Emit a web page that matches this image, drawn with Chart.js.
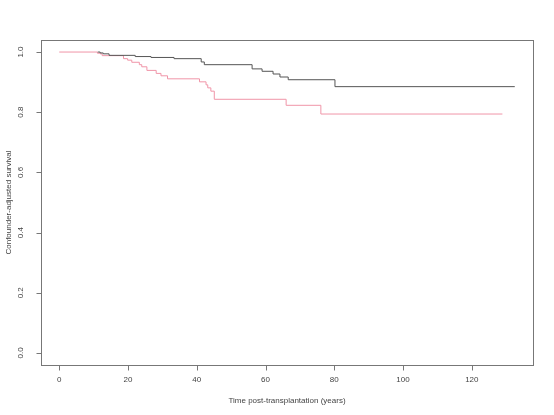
<!DOCTYPE html>
<html>
<head>
<meta charset="utf-8">
<script src="https://cdn.jsdelivr.net/npm/chart.js@4.4.0/dist/chart.umd.min.js"></script>
<style>
  body { margin: 0; background: #fff; }
  canvas { display: block; }
</style>
</head>
<body>
<canvas id="km" width="554" height="415"></canvas>
<script>
// survival curves (time in years, survival)
var blackTimes = [11.2, 11.9, 12.8, 14.5, 22.1, 26.7, 33.4, 41.3, 42.2, 56.1, 59.0, 62.2, 64.2, 66.6, 80.2, 132.5];
var blackSurv  = [1.0, 0.997, 0.994, 0.989, 0.985, 0.982, 0.978, 0.967, 0.958, 0.944, 0.936, 0.927, 0.917, 0.908, 0.885, 0.885];

var redTimes = [0, 11.1, 11.9, 12.5, 18.7, 19.9, 21.1, 23.3, 24.0, 25.5, 28.2, 29.6, 31.5, 40.8, 42.7, 43.2, 44.1, 45.1, 66.0, 76.1, 128.9];
var redSurv  = [1.0, 0.996, 0.994, 0.988, 0.978, 0.973, 0.966, 0.958, 0.951, 0.939, 0.929, 0.921, 0.911, 0.901, 0.891, 0.881, 0.870, 0.843, 0.823, 0.794, 0.794];

var xTicks = [0, 20, 40, 60, 80, 100, 120];
var yTicks = [0.0, 0.2, 0.4, 0.6, 0.8, 1.0];
var xTitle = "Time post-transplantation (years)";
var yTitle = "Confounder-adjusted survival";

function toPoints(xs, ys) {
  var pts = [];
  for (var i = 0; i < xs.length; i++) {
    pts.push({ x: xs[i], y: ys[i] });
  }
  return pts;
}

// R style box, ticks and labels drawn with the chart's own scales
var rAxes = {
  id: "rAxes",
  afterDraw: function(chart) {
    var ctx = chart.ctx;
    var a = chart.chartArea;
    var xs = chart.scales.x;
    var ys = chart.scales.y;
    ctx.save();
    ctx.strokeStyle = "#777";
    ctx.lineWidth = 1;
    ctx.strokeRect(Math.round(a.left) + 0.5, Math.round(a.top) + 0.5,
      Math.round(a.right - a.left), Math.round(a.bottom - a.top));

    ctx.fillStyle = "#444";
    ctx.font = "8px 'Liberation Sans', Arial, sans-serif";
    ctx.textAlign = "center";
    ctx.textBaseline = "middle";

    var yb = Math.round(a.bottom) + 0.5;
    ctx.beginPath();
    ctx.moveTo(xs.getPixelForValue(xTicks[0]), yb);
    ctx.lineTo(xs.getPixelForValue(xTicks[xTicks.length - 1]), yb);
    xTicks.forEach(function(t) {
      var px = Math.round(xs.getPixelForValue(t)) + 0.5;
      ctx.moveTo(px, yb);
      ctx.lineTo(px, yb + 5);
    });
    ctx.stroke();
    xTicks.forEach(function(t) {
      ctx.fillText(String(t), xs.getPixelForValue(t), 380);
    });
    ctx.fillText(xTitle, (a.left + a.right) / 2, 401);

    var xl = Math.round(a.left) + 0.5;
    ctx.beginPath();
    ctx.moveTo(xl, ys.getPixelForValue(yTicks[0]));
    ctx.lineTo(xl, ys.getPixelForValue(yTicks[yTicks.length - 1]));
    yTicks.forEach(function(v) {
      var py = Math.round(ys.getPixelForValue(v)) + 0.5;
      ctx.moveTo(xl, py);
      ctx.lineTo(xl - 5, py);
    });
    ctx.stroke();
    yTicks.forEach(function(v) {
      ctx.save();
      ctx.translate(21, ys.getPixelForValue(v));
      ctx.rotate(-Math.PI / 2);
      ctx.fillText(v.toFixed(1), 0, 0);
      ctx.restore();
    });
    ctx.save();
    ctx.translate(9, (a.top + a.bottom) / 2);
    ctx.rotate(-Math.PI / 2);
    ctx.fillText(yTitle, 0, 0);
    ctx.restore();
    ctx.restore();
  }
};

var chart = new Chart(document.getElementById("km"), {
  type: "line",
  data: {
    datasets: [
      {
        data: toPoints(blackTimes, blackSurv),
        borderColor: "#555",
        borderWidth: 1,
        stepped: "before",
        pointRadius: 0,
        fill: false
      },
      {
        data: toPoints(redTimes, redSurv),
        borderColor: "#f095a8",
        borderWidth: 1,
        stepped: "before",
        pointRadius: 0,
        fill: false
      }
    ]
  },
  options: {
    responsive: false,
    animation: false,
    events: [],
    layout: { padding: { left: 41, right: 21, top: 40, bottom: 50 } },
    plugins: { legend: { display: false }, tooltip: { enabled: false } },
    scales: {
      x: { type: "linear", min: -5.3, max: 137.8, display: false },
      y: { type: "linear", min: -0.04, max: 1.04, display: false }
    }
  },
  plugins: [rAxes]
});
</script>
</body>
</html>
